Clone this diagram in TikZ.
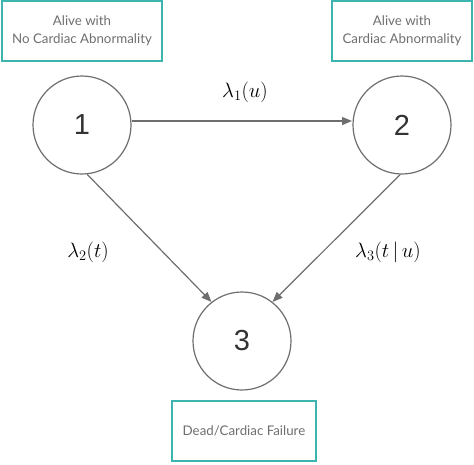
\documentclass[tikz,border=0pt]{standalone}
\usepackage{fontspec}
\setmainfont{Lato}
\newfontfamily\numfont{Liberation Sans}
\usetikzlibrary{arrows.meta}
\definecolor{tealbox}{HTML}{3DB5AE}
\definecolor{lgray}{HTML}{6E6E6E}
\definecolor{dgray}{HTML}{333333}
\begin{document}
\begin{tikzpicture}[x=1pt,y=-1pt,
  labelbox/.style={draw=tealbox,line width=1.8pt,text=lgray,font=\fontsize{13.3}{18}\selectfont,align=center,inner sep=0pt},
  state/.style={circle,draw=lgray,line width=1.2pt,minimum size=98pt,inner sep=0pt,text=dgray,font=\numfont\fontsize{29}{30}\selectfont},
  trans/.style={draw=lgray,line width=1.2pt,-{Triangle[length=10pt,width=8pt]}},
  lab/.style={font=\fontsize{20}{22}\selectfont}]
\useasboundingbox (0,0) rectangle (474,464);
\node[labelbox,minimum width=160pt,minimum height=60pt] (b1) at (82,31) {Alive with\\No Cardiac Abnormality};
\node[labelbox,minimum width=140pt,minimum height=60pt] (b2) at (402,31) {Alive with\\Cardiac Abnormality};
\node[labelbox,minimum width=144pt,minimum height=60pt] (b3) at (244,431) {Dead/Cardiac Failure};
\node[state] (s1) at (82,125) {1};
\node[state] (s2) at (402,125) {2};
\node[state] (s3) at (242,341) {3};
\draw[trans] (s1.east |- 0,121) coordinate (a1) -- (352,121) coordinate (a2);
\draw[trans] (s1.-84) -- (s3.128);
\draw[trans] (s2.-92) -- (s3.52);
\node[lab] (l1) at (245,92) {$\lambda_1(u)$};
\node[lab] (l2) at (88,252) {$\lambda_2(t)$};
\node[lab] (l3) at (388,252) {$\lambda_3(t\,|\,u)$};
\end{tikzpicture}
\end{document}
